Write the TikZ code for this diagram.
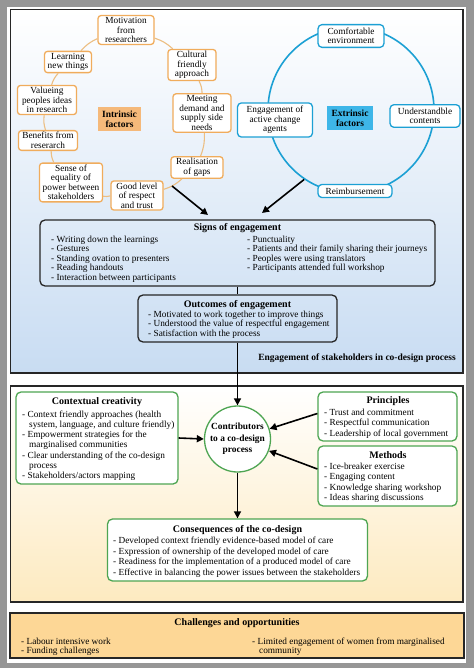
\documentclass[tikz,border=0pt]{standalone}
\usepackage{fontspec}
\setmainfont{Liberation Serif}
\usetikzlibrary{calc,positioning,arrows.meta}

\definecolor{ringorange}{RGB}{240,172,92}
\definecolor{ringline}{RGB}{236,190,130}
\definecolor{intrfill}{RGB}{245,185,122}
\definecolor{extblue}{RGB}{28,160,212}
\definecolor{extfill}{RGB}{62,182,232}
\definecolor{boxgreen}{RGB}{78,165,82}
\definecolor{panelblue}{RGB}{200,220,242}
\definecolor{panelcream}{RGB}{253,234,192}
\definecolor{challfill}{RGB}{253,215,150}
\definecolor{framegray}{RGB}{150,150,150}

\tikzset{
  % factor boxes round the two rings
  ringbox/.style={draw=ringorange,line width=1.3pt,rounded corners=3pt,fill=white,align=center,
    inner xsep=2pt,inner ysep=1.8pt,font=\fontsize{9.3}{9.5}\selectfont},
  extbox/.style={draw=extblue,line width=1.3pt,rounded corners=4pt,fill=white,align=center,
    inner xsep=2pt,inner ysep=3.3pt,font=\fontsize{9.3}{9.5}\selectfont},
  ringlink/.style={draw=ringline,line width=1.1pt},
  extcircle/.style={circle,draw=extblue,line width=1.6pt,inner sep=0pt},
  % labels in the middle of the rings
  factorlabel/.style={align=center,font=\fontsize{9.5}{10}\selectfont\bfseries,
    minimum width=43pt,minimum height=24pt,inner sep=1pt},
  % framed boxes: title and list are separate nodes
  blackbox/.style={draw=black!85,line width=1.3pt,rounded corners=5pt},
  greenbox/.style={draw=boxgreen,line width=1.3pt,rounded corners=5pt,fill=white},
  boxtitle/.style={anchor=base,inner sep=0pt,font=\fontsize{10}{11}\selectfont\bfseries},
  itemtxt/.style={anchor=base west,inner sep=0pt,font=\fontsize{9.3}{#1}\selectfont},
  itemtxt/.default=9.5,
  % connectors
  flow/.style={draw=black,line width=1.6pt},
  arr/.style={flow,-{Triangle[length=7pt,width=7pt]}},
  panel/.style={draw=black!85,line width=1.2pt},
}
% list whose baseline is that of its first line
\newcommand{\itemlist}[1]{\begin{tabular}[t]{@{}l@{}}#1\end{tabular}}
\newcommand{\cont}{\hspace*{7pt}}

\begin{document}
\begin{tikzpicture}[x=1pt,y=-1pt]
  \useasboundingbox (0,0) rectangle (474,668);
  % frame and panels
  \fill[framegray] (0,0) rectangle (474,668);
  \fill[white] (7,7) rectangle (466,663);
  \shade[top color=white,bottom color=panelblue] (10.5,9.5) rectangle (463,373);
  \draw[panel] (10.5,9.5) rectangle (463,373);
  \shade[top color=white,bottom color=panelcream] (10.5,386) rectangle (463,602);
  \draw[panel] (10.5,386) rectangle (463,602);
  \node[draw=black!85,line width=1.2pt,fill=challfill,minimum width=454pt,minimum height=45pt,inner sep=0pt] (chall) at (237,635.5) {};

  % intrinsic ring
  \node[ringbox,minimum width=56pt] (mot) at (126,30) {Motivation\\from\\researchers};
  \node[ringbox,minimum width=47pt] (learn) at (68,62) {Learning\\new things};
  \node[ringbox,minimum width=48pt] (cult) at (192,65) {Cultural\\friendly\\approach};
  \node[ringbox,minimum width=59pt] (value) at (47,100) {Valueing\\peoples ideas\\in research};
  \node[ringbox,minimum width=58pt] (meet) at (202,113) {Meeting\\demand and\\supply side\\needs};
  \node[ringbox,minimum width=59pt] (benef) at (48,140.5) {Benefits from\\reserarch};
  \node[ringbox,minimum width=63pt] (sense) at (71,182.5) {Sense of\\equality of\\power between\\stakeholders};
  \node[ringbox,minimum width=52pt] (good) at (137,195.5) {Good level\\of respect\\and trust};
  \node[ringbox,minimum width=52pt] (gaps) at (197,167.5) {Realisation\\of gaps};
  \node[factorlabel,fill=intrfill] (intrl) at (119.5,119) {Intrinsic\\factors};
  \foreach \a/\b in {mot/cult,cult/meet,meet/gaps,gaps/good,good/sense,sense/benef,benef/value,value/learn,learn/mot}
    \draw[ringlink] (\a) to[bend left=12] (\b);

  % extrinsic ring
  \node[extcircle,minimum size=166pt] (extring) at (351,110) {};
  \node[extbox,minimum width=66pt] (comf) at (351,36) {Comfortable\\environment};
  \node[extbox,minimum width=75pt] (agents) at (275,120) {Engagement of\\active change\\agents};
  \node[extbox,minimum width=70pt] (undr) at (425,116) {Understandble\\contents};
  \node[extbox,minimum width=74pt] (reimb) at (355,191) {Reimbursement};
  \node[factorlabel,fill=extfill,minimum width=46pt] (extl) at (350,118.5) {Extrinsic\\factors};

  % signs and outcomes of engagement
  \node[blackbox,minimum width=395pt,minimum height=66pt] (signs) at (237.5,253) {};
  \node[boxtitle] (signst) at (237.5,230.5) {Signs of engagement};
  \node[itemtxt] (signsl) at (51,242) {\itemlist{- Writing down the learnings\\- Gestures\\- Standing ovation to presenters\\- Reading handouts\\- Interaction between participants}};
  \node[itemtxt] (signsr) at (247,242) {\itemlist{- Punctuality\\- Patients and their family sharing their journeys\\- Peoples were using translators\\- Participants attended full workshop}};
  \node[blackbox,minimum width=199pt,minimum height=47pt] (outc) at (237.5,318.5) {};
  \node[boxtitle] (outct) at (237.5,307.5) {Outcomes of engagement};
  \node[itemtxt] (outcl) at (148,317) {\itemlist{- Motivated to work together to improve things\\- Understood the value of respectful engagement\\- Satisfaction with the process}};
  \node[anchor=base east,inner sep=0pt,font=\fontsize{9.5}{10}\selectfont\bfseries] (panell) at (456,360) {Engagement of stakeholders in co-design process};

  \coordinate (introut) at (172,186);
  \coordinate (signsin1) at (208,215);
  \coordinate (signsin2) at (262,213);
  \draw[arr] (introut) -- (signsin1);
  \draw[arr] (extring.236) -- (signsin2);
  \draw[flow] (signs.south) -- (outc.north);

  % contributors to a co-design process
  \node[circle,draw=boxgreen,line width=1.3pt,fill=white,minimum size=66pt,inner sep=0pt,align=center,
    font=\fontsize{9.4}{11.3}\selectfont\bfseries] (contr) at (237.5,439) {Contributors\\to a co-design\\process};
  \node[greenbox,minimum width=162pt,minimum height=92pt] (ctx) at (97,438) {};
  \node[boxtitle] (ctxt) at (97,404.5) {Contextual creativity};
  \node[itemtxt=10.3] (ctxl) at (22,417) {\itemlist{- Context friendly approaches (health\\\cont system, language, and culture friendly)\\- Empowerment strategies for the\\\cont marginalised communities\\- Clear understanding of the co-design\\\cont process\\- Stakeholders/actors mapping}};
  \node[greenbox,minimum width=139pt,minimum height=49pt] (princ) at (387.5,416.5) {};
  \node[boxtitle] (princt) at (388,403.5) {Principles};
  \node[itemtxt=10.4] (princl) at (324,415.3) {\itemlist{- Trust and commitment\\- Respectful communication\\- Leadership of local government}};
  \node[greenbox,minimum width=139pt,minimum height=60pt] (meth) at (387.5,476) {};
  \node[boxtitle] (metht) at (388,458) {Methods};
  \node[itemtxt=10.2] (methl) at (324,469.7) {\itemlist{- Ice-breaker exercise\\- Engaging content\\- Knowledge sharing workshop\\- Ideas sharing discussions}};
  \node[greenbox,minimum width=260pt,minimum height=62pt] (cons) at (237.5,550) {};
  \node[boxtitle] (const) at (237.5,532.5) {Consequences of the co-design};
  \node[itemtxt=10.5] (consl) at (113,543.7) {\itemlist{- Developed context friendly evidence-based model of care\\- Expression of ownership of the developed model of care\\- Readiness for the implementation of a produced model of care\\- Effective in balancing the power issues between the stakeholders}};

  \draw[arr] (outc.south) -- (contr.north);
  \draw[arr] (ctx.east) -- (contr.west);
  \draw[arr] ([yshift=3pt]princ.west) -- (contr);
  \draw[arr] ([yshift=7pt]meth.west) -- (contr);
  \draw[arr] (contr.south) -- (cons.north);

  % challenges
  \node[boxtitle] (challt) at (237,625.5) {Challenges and opportunities};
  \node[itemtxt=9] (challl) at (21,644.7) {\itemlist{- Labour intensive work\\- Funding challenges}};
  \node[itemtxt=9] (challr) at (252,644.7) {\itemlist{- Limited engagement of women from marginalised\\\cont community}};
\end{tikzpicture}
\end{document}
